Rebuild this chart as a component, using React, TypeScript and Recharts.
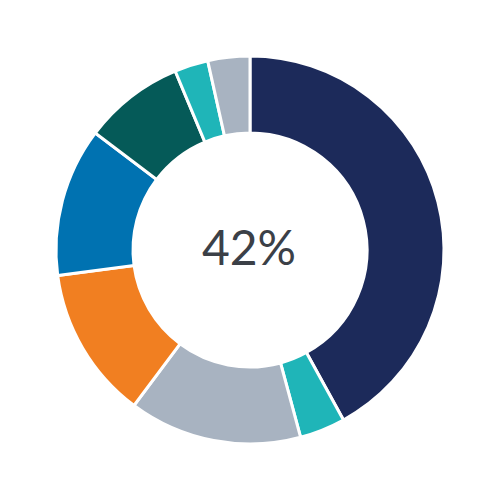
import React from "react";
import { PieChart, Pie, Cell } from "recharts";

const names = ["A", "B", "C", "D", "E", "F", "G", "H"];
const values = [42, 3.8, 14.4, 12.7, 12.4, 8.4, 2.8, 3.5];
const colors = ["#1c2a5a", "#1fb5b8", "#a8b3c1", "#f17f21", "#0072b1", "#055a58", "#1fb5b8", "#a8b3c1"];
const centerLabel = "42%";

const data = names.map((n, i) => ({ name: n, value: values[i] }));

export default function App() {
  return (
    <div style={{ position: "absolute", left: 0, top: 0, width: 500, height: 500, background: "#fff" }}>
      <PieChart width={500} height={500} margin={{ top: 0, right: 0, bottom: 0, left: 0 }}>
        <Pie
          data={data}
          dataKey="value"
          cx={250}
          cy={250}
          innerRadius={117}
          outerRadius={194}
          startAngle={90}
          endAngle={-270}
          stroke="#ffffff"
          strokeWidth={3}
          isAnimationActive={false}
        >
          {data.map((d, i) => (
            <Cell key={d.name} fill={colors[i]} />
          ))}
        </Pie>
        <text
          x={249}
          y={246}
          textAnchor="middle"
          dominantBaseline="central"
          fontFamily="Lato, sans-serif"
          fontSize={48}
          fontWeight={400}
          fill="#3b4047"
        >
          {centerLabel}
        </text>
      </PieChart>
    </div>
  );
}
